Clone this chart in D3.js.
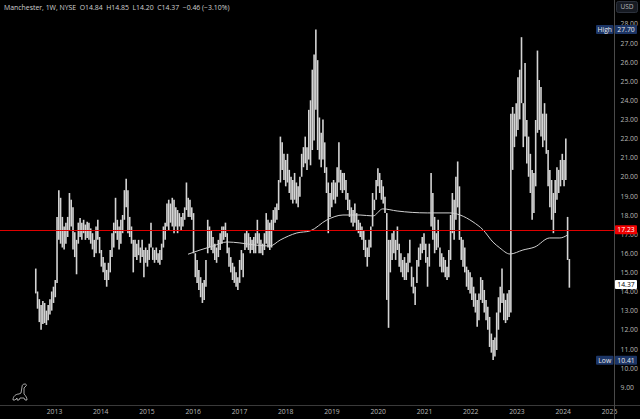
<!DOCTYPE html>
<html><head><meta charset="utf-8">
<script src="https://cdn.jsdelivr.net/npm/d3@7"></script>
<style>html,body{margin:0;padding:0;background:#000;overflow:hidden}svg{display:block}</style>
</head><body><svg id="c" width="640" height="419"></svg>
<script>
const titleText = "Manchester, 1W, NYSE  O14.84  H14.85  L14.20  C14.37  \u22120.46 (\u22123.10%)";
const firstBar = "2012-08-10";
const barStepDays = 14;
const highs = [15.2,14.0,13.6,13.3,13.5, 13.4,13.0,13.3,13.6,14.0, 14.25,14.6,17.9,19.3,18.9, 17.9,17.4,17.6,17.9,19.15,
 18.8,18.4,17.1,16.7,17.6, 17.85,17.6,17.75,17.5,17.65, 17.6,17.3,17.05,16.7,17.4, 17.75,16.85,16.17,15.8,15.5,
 15.13,15.5,16.17,17.05,17.6, 18.9,17.75,17.4,17.75,18.0, 19.3,19.9,19.3,17.9,17.4, 16.7,16.7,16.5,16.7,16.3,
 16.7,16.17,16.3,16.17,16.5, 17.6,16.3,16.17,16.3,16.0, 16.17,16.5,17.4,17.6,18.6, 18.8,18.6,18.9,18.8,18.4,
 18.26,18.1,17.9,18.1,18.4, 19.7,18.9,18.8,18.4,18.1, 16.0,15.65,15.13,14.75,14.45, 14.6,15.65,17.75,17.4,17.2,
 16.85,16.5,16.3,16.7,17.05, 17.4,17.4,17.6,17.05,16.3, 15.8,15.5,15.3,15.0,14.75, 15.65,16.17,16.0,17.05,17.2,
 17.05,16.85,16.7,16.85,17.05, 17.75,17.05,16.7,16.5,17.05, 18.1,17.75,17.6,17.75,18.26, 18.4,18.6,19.83,22.1,21.8,
 21.2,20.88,21.2,20.36,20.0, 19.83,20.2,19.7,19.5,20.0, 21.2,21.55,22.1,21.55,23.5, 24.0,25.6,26.4,27.7,26.1,
 23.1,22.3,23.0,21.8,20.5, 19.7,19.15,19.7,19.83,19.7, 20.5,21.8,20.36,20.2,20.2, 19.83,19.15,18.8,18.4,18.26,
 18.6,18.1,17.75,17.6,17.4, 17.2,16.7,16.3,16.7,17.4, 19.15,18.8,19.83,20.45,20.2, 19.83,19.5,18.95,18.1,16.7,
 16.7,17.05,17.2,16.7,17.4, 16.5,16.0,15.65,15.8,15.5, 16.0,16.7,15.3,14.75,14.25, 15.65,16.3,16.5,16.85,17.05,
 16.5,15.8,16.5,20.2,19.15, 17.9,17.05,17.75,16.3,16.0, 15.8,15.65,15.3,16.17,18.0, 19.15,18.8,20.0,20.8,19.5,
 16.85,16.7,16.3,15.3,15.13, 15.0,14.75,14.25,13.9,13.56, 13.9,14.75,14.6,14.08,13.56, 13.2,12.67,11.8,11.46,11.6,
 12.9,13.7,14.25,15.2,13.9, 13.56,13.9,14.08,23.3,23.65, 23.3,23.85,25.2,25.6,27.3, 23.85,25.95,22.97,22.1,21.2,
 20.36,20.2,22.97,26.6,25.06, 24.7,23.3,23.85,23.3,21.4, 20.36,19.83,19.15,19.83,20.5, 20.36,20.88,21.2,20.88,22.0,
 17.9,15.7];
const lows = [13.9,13.1,12.4,12.0,12.3, 12.35,12.25,12.5,12.8,13.0, 13.4,13.7,14.45,16.7,16.5, 16.3,16.2,16.5,16.85,17.2,
 17.4,16.2,15.8,14.9,16.5, 16.85,16.7,17.05,16.7,16.8, 16.7,16.5,16.2,15.8,16.0, 16.7,16.0,15.3,15.0,14.6,
 14.25,14.6,15.0,15.8,16.3, 17.05,16.7,16.2,16.5,17.05, 17.75,18.4,17.05,16.85,16.5, 15.0,15.8,15.65,15.9,15.5,
 15.8,14.75,15.5,15.3,15.65, 16.3,15.65,15.5,15.65,15.5, 15.4,15.65,16.3,16.7,17.4, 17.2,17.6,17.4,17.05,17.4,
 17.05,17.4,17.2,17.4,17.75, 18.26,17.9,17.9,17.75,16.0, 14.75,14.45,14.08,13.7,13.4, 13.56,14.25,16.0,16.3,16.17,
 16.0,15.65,15.5,15.8,16.17, 16.5,16.7,16.85,16.0,15.3, 15.0,14.6,14.45,14.25,14.08, 14.45,15.13,14.75,16.17,16.3,
 16.17,16.0,16.17,16.0,16.0, 16.5,16.0,16.0,15.9,16.17, 16.5,16.3,16.17,16.3,17.2, 17.6,17.75,18.26,19.7,20.36,
 19.83,19.5,19.7,19.15,18.8, 18.6,18.8,18.6,18.4,18.95, 20.0,20.5,20.7,20.36,20.9, 20.6,21.4,21.9,23.5,21.4,
 20.9,20.5,20.9,20.2,19.15, 17.05,17.9,18.4,18.8,18.6, 18.95,19.7,19.3,19.15,19.3, 18.8,18.26,17.9,17.6,17.4,
 17.6,17.2,17.05,16.85,16.7, 16.17,15.8,15.3,15.8,16.3, 17.4,18.26,18.8,19.5,19.15, 18.8,18.6,18.1,13.56,12.1,
 15.0,15.65,16.0,15.65,16.17, 15.3,15.0,14.75,14.6,14.6, 15.0,15.5,14.25,13.9,13.3, 14.45,15.3,15.65,16.0,16.17,
 15.5,14.25,15.3,17.4,16.7, 16.0,16.17,16.3,15.3,15.0, 15.0,14.75,14.6,14.75,15.65, 17.05,16.7,17.75,18.4,16.7,
 15.65,15.3,15.0,14.25,14.08, 13.9,13.56,13.2,12.9,12.15, 12.5,13.56,13.4,12.9,12.5, 12.0,11.1,10.8,10.42,10.6,
 10.94,12.0,12.9,13.4,12.5, 12.35,12.5,12.67,12.9,20.36, 21.55,22.1,22.45,23.0,23.85, 21.55,22.1,20.7,20.0,19.15,
 17.75,18.1,19.5,22.3,22.45, 22.1,21.55,21.9,21.2,19.5, 18.4,17.75,17.05,18.1,18.8, 19.15,19.5,19.83,19.5,19.83,
 15.65,14.2];
const maYears = [2015.90,2016.16,2016.44,2016.74,2017.02,2017.35,2017.67,2017.89,2018.25,2018.54,2018.90,2019.25,2019.62,2019.90,
 2020.11,2020.42,2021.07,2021.56,2021.78,2022.06,2022.28,2022.49,2022.64,2022.86,2023.14,2023.40,2023.72,2023.94,2024.11];
const maValues = [15.95,16.17,16.38,16.59,16.54,16.43,16.38,16.69,17.06,17.17,17.74,18.0,18.0,17.95,
 18.32,18.21,18.11,18.11,18.0,17.64,17.22,16.59,16.28,15.96,16.17,16.33,16.8,16.8,16.96];
const priceTicks = [9,10,11,12,13,14,15,16,17,18,19,20,21,22,23,24,25,26,27,28];
const yearTicks = [2013,2014,2015,2016,2017,2018,2019,2020,2021,2022,2023,2024,2025];
const hLineValue = 17.23;
const lastClose = 14.37;
const rangeHigh = 27.70;
const rangeLow = 10.41;

const svg = d3.select("#c");
const font = "'Open Sans', 'Noto Sans', sans-serif";
const axisX = 614.5;
const x = d3.scaleTime().domain([new Date(2013,0,1), new Date(2025,0,1)]).range([54, 609]);
const y = d3.scaleLinear().domain([9, 28]).range([387.1, 23.8]);
const t0 = new Date(firstBar + "T00:00:00");
const dates = highs.map((_, i) => d3.timeDay.offset(t0, i * barStepDays));
const yearToDate = v => { const yr = Math.floor(v); const s = new Date(yr,0,1), e = new Date(yr+1,0,1); return new Date(+s + (v-yr)*(e-s)); };

svg.append("rect").attr("width",640).attr("height",419).attr("fill","#000");

// bars
const g = svg.append("g");
g.selectAll("line.bar").data(highs).join("line").attr("class","bar")
  .attr("x1",(d,i)=>x(dates[i])).attr("x2",(d,i)=>x(dates[i]))
  .attr("y1",d=>y(d)).attr("y2",(d,i)=>y(lows[i]))
  .attr("stroke","#d4d4d4").attr("stroke-width",1.6);

// MA
svg.append("path").datum(maYears.map((v,i)=>[yearToDate(v), maValues[i]]))
  .attr("d", d3.line().x(d=>x(d[0])).y(d=>y(d[1])).curve(d3.curveMonotoneX))
  .attr("fill","none").attr("stroke","#d0d0d0").attr("stroke-width",1);

// red horizontal line
svg.append("line").attr("x1",0).attr("x2",axisX).attr("y1",Math.round(y(hLineValue))+0.5).attr("y2",Math.round(y(hLineValue))+0.5)
  .attr("stroke","#e00000").attr("stroke-width",1);

// right axis
svg.append("line").attr("x1",axisX).attr("x2",axisX).attr("y1",0).attr("y2",419).attr("stroke","#4a4a4a");
const ya = d3.axisRight(y).tickValues(priceTicks).tickFormat(d3.format(".2f")).tickSize(0).tickPadding(0);
const yg = svg.append("g").attr("transform",`translate(${axisX+3},0)`).call(ya);
yg.select(".domain").remove();
yg.selectAll("text").attr("font-family",font).attr("font-size",6.8).attr("fill","#b8b8b8").attr("x",3);

// bottom axis
svg.append("line").attr("x1",0).attr("x2",640).attr("y1",405.5).attr("y2",405.5).attr("stroke","#3a3a3a");
const xa = d3.axisBottom(x).tickValues(yearTicks.map(v=>new Date(v,0,1))).tickFormat(d3.timeFormat("%Y")).tickSize(0).tickPadding(0);
const xg = svg.append("g").attr("transform","translate(0,409)").call(xa);
xg.select(".domain").remove();
xg.selectAll("text").attr("font-family",font).attr("font-size",6.8).attr("fill","#b8b8b8").attr("dy","0.71em");
svg.append("line").attr("x1",axisX).attr("x2",axisX).attr("y1",405).attr("y2",419).attr("stroke","#4a4a4a");

// labels
function tag(val, txt, fill, color, x0, w) {
  const cy = y(val);
  svg.append("rect").attr("x",x0).attr("y",cy-4.5).attr("width",w).attr("height",9).attr("fill",fill).attr("rx",1);
  svg.append("text").attr("x",x0+w/2).attr("y",cy).attr("dy","0.35em").attr("text-anchor","middle")
    .attr("font-family",font).attr("font-size",6.8).attr("fill",color).text(txt);
}
tag(rangeHigh, "High", "#1c3566", "#e8e8e8", 596, 17.5);
tag(rangeHigh, d3.format(".2f")(rangeHigh), "#1c3566", "#e8e8e8", 615, 22);
tag(rangeLow, "Low", "#1c3566", "#e8e8e8", 596, 17.5);
tag(rangeLow, d3.format(".2f")(rangeLow), "#1c3566", "#e8e8e8", 615, 22);
tag(hLineValue, d3.format(".2f")(hLineValue), "#f00000", "#ffffff", 615, 22);
tag(lastClose, d3.format(".2f")(lastClose), "#ffffff", "#000000", 615, 22);

// USD box
svg.append("rect").attr("x",616.5).attr("y",1.5).attr("width",21).attr("height",11).attr("rx",2).attr("fill","#161a22").attr("stroke","#2c313c");
svg.append("text").attr("x",627).attr("y",7).attr("dy","0.35em").attr("text-anchor","middle").attr("font-family",font).attr("font-size",6.5).attr("fill","#b8b8b8").text("USD");

// title
svg.append("text").attr("x",4).attr("y",8).attr("dy","0.35em").attr("font-family",font).attr("font-size",6.9).attr("fill","#d0d0d0")
  .attr("xml:space","preserve").style("white-space","pre").text(titleText);

// logo (dino outline)
svg.append("path").attr("d","M13,400 C13,396 16,394 19,394 L21,393 L22,387 C22,385 23,384 25,384 C26,384 27,385 26,386 L24,388 L24,394 C26,396 27,398 27,400 L25,400 L24,398 L20,398 L19,400 L17,400 L17,398 L15,400 Z")
  .attr("fill","none").attr("stroke","#cfcfcf").attr("stroke-width",0.8);
</script></body></html>
